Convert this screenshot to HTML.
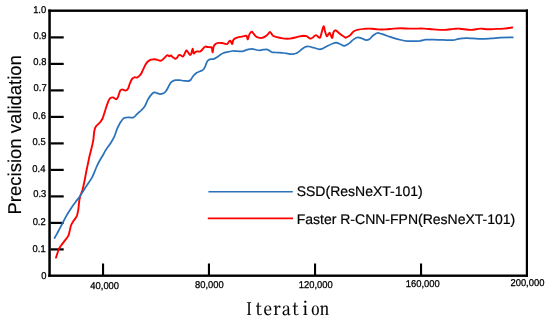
<!DOCTYPE html>
<html><head><meta charset="utf-8"><style>
html,body{margin:0;padding:0;background:#fff;}
body{width:550px;height:322px;overflow:hidden;}
svg{display:block;}
text{text-rendering:geometricPrecision;}
.tk{font-family:"Liberation Sans",Arial,sans-serif;font-size:9.9px;fill:#000;stroke:#000;stroke-width:0.28px;}
</style></head><body>
<svg width="550" height="322" viewBox="0 0 550 322">
<rect width="550" height="322" fill="#fff"/>
<g fill="#000">
<rect x="48.3" y="9.5" width="479.7" height="2.4"/>
<rect x="48.3" y="9.5" width="2.5" height="267.4"/>
<rect x="525.8" y="9.5" width="2.2" height="267.4"/>
<rect x="48.3" y="274.5" width="479.7" height="2.4"/>
<rect x="50.5" y="248.30" width="13.2" height="2.2"/><rect x="50.5" y="221.80" width="13.2" height="2.2"/><rect x="50.5" y="195.30" width="13.2" height="2.2"/><rect x="50.5" y="168.80" width="13.2" height="2.2"/><rect x="50.5" y="142.30" width="13.2" height="2.2"/><rect x="50.5" y="115.80" width="13.2" height="2.2"/><rect x="50.5" y="89.30" width="13.2" height="2.2"/><rect x="50.5" y="62.80" width="13.2" height="2.2"/><rect x="50.5" y="36.30" width="13.2" height="2.2"/>
<rect x="102.0" y="263.5" width="2.1" height="12"/><rect x="207.9" y="263.5" width="2.1" height="12"/><rect x="314.0" y="263.5" width="2.1" height="12"/><rect x="420.0" y="263.5" width="2.1" height="12"/>
</g>
<g class="tk" text-anchor="end"><text transform="translate(46.2,12.5) scale(0.95,1)">1.0</text><text transform="translate(46.5,38.6) scale(0.95,1)">0.9</text><text transform="translate(46.4,64.7) scale(0.95,1)">0.8</text><text transform="translate(46.6,91.4) scale(0.95,1)">0.7</text><text transform="translate(45.9,118.7) scale(0.95,1)">0.6</text><text transform="translate(45.6,144.8) scale(0.95,1)">0.5</text><text transform="translate(45.4,171.6) scale(0.95,1)">0.4</text><text transform="translate(46.3,197.4) scale(0.95,1)">0.3</text><text transform="translate(45.7,224.5) scale(0.95,1)">0.2</text><text transform="translate(45.6,251.8) scale(0.95,1)">0.1</text><text transform="translate(46.5,278.5) scale(0.95,1)">0</text></g>
<g class="tk" text-anchor="middle"><text transform="translate(104.7,288.5) scale(0.95,1)">40,000</text><text transform="translate(209.3,287.5) scale(0.95,1)">80,000</text><text transform="translate(315.7,287.9) scale(0.95,1)">120,000</text><text transform="translate(422.7,287.2) scale(0.95,1)">160,000</text><text transform="translate(527.4,285.5) scale(0.95,1)">200,000</text></g>
<path d="M56.0,257.6 C56.5,256.2 57.9,251.5 58.7,249.5 C59.5,247.5 59.8,247.2 60.9,245.7 C62.0,244.1 63.9,241.9 65.2,240.2 C66.5,238.5 67.7,236.9 68.5,235.3 C69.3,233.7 69.3,232.1 69.8,230.4 C70.2,228.7 70.5,226.7 71.2,225.0 C71.9,223.3 72.9,222.0 73.8,220.5 C74.7,219.0 76.0,217.9 76.8,216.1 C77.5,214.3 77.9,211.8 78.3,209.6 C78.7,207.4 78.7,205.2 79.0,203.0 C79.3,200.8 79.5,198.7 80.1,196.5 C80.7,194.3 81.7,192.8 82.5,190.0 C83.3,187.2 84.0,183.3 84.7,180.0 C85.4,176.7 85.9,173.3 86.6,170.0 C87.3,166.7 88.2,162.5 88.7,160.0 C89.2,157.5 89.3,156.9 89.8,155.0 C90.3,153.1 90.9,150.7 91.5,148.3 C92.1,145.9 92.8,143.1 93.2,140.7 C93.6,138.3 93.7,135.9 93.9,134.1 C94.1,132.3 94.3,131.1 94.6,129.8 C94.9,128.5 95.3,127.4 95.9,126.5 C96.5,125.6 97.3,125.0 98.0,124.3 C98.7,123.5 99.5,123.0 100.3,122.0 C101.1,121.0 101.9,119.9 102.6,118.5 C103.2,117.1 103.7,115.0 104.2,113.5 C104.7,112.0 105.0,111.0 105.4,109.8 C105.8,108.5 106.2,107.2 106.6,106.0 C107.0,104.8 107.5,103.5 107.9,102.4 C108.3,101.3 108.8,100.3 109.2,99.6 C109.6,98.9 109.8,98.4 110.4,98.0 C111.0,97.6 112.0,97.2 112.9,97.4 C113.8,97.6 115.2,99.3 116.0,99.3 C116.8,99.3 117.3,98.3 117.8,97.4 C118.3,96.5 118.6,95.1 119.0,94.0 C119.4,92.9 119.8,91.4 120.3,90.6 C120.8,89.8 121.4,89.4 122.2,89.4 C123.0,89.4 124.3,90.7 125.3,90.6 C126.3,90.5 127.2,89.9 128.0,88.7 C128.8,87.5 129.2,84.9 129.9,83.3 C130.6,81.7 131.4,79.9 132.1,78.9 C132.8,77.9 133.4,77.5 134.2,77.3 C135.0,77.1 136.2,77.8 137.0,77.6 C137.8,77.4 138.4,76.9 139.1,76.2 C139.8,75.5 140.6,74.8 141.3,73.5 C142.0,72.2 142.8,70.2 143.5,68.7 C144.2,67.2 144.9,65.5 145.7,64.2 C146.5,62.9 147.5,61.8 148.4,61.0 C149.3,60.2 150.1,60.0 151.1,59.7 C152.1,59.4 153.2,59.3 154.3,59.3 C155.4,59.3 156.7,59.6 157.6,59.9 C158.5,60.1 159.3,60.7 160.0,60.8 C160.7,60.9 161.1,60.8 161.9,60.3 C162.7,59.8 163.8,58.5 164.7,57.6 C165.6,56.8 166.6,55.4 167.4,55.2 C168.2,55.0 168.7,56.2 169.3,56.2 C169.9,56.2 170.4,55.4 171.0,55.5 C171.6,55.6 171.9,56.6 172.6,57.1 C173.3,57.6 174.6,58.6 175.4,58.7 C176.2,58.8 176.7,58.2 177.2,57.6 C177.7,57.0 178.0,55.6 178.6,55.2 C179.2,54.8 179.8,55.0 180.5,55.2 C181.2,55.4 182.2,56.8 182.8,56.6 C183.5,56.5 183.8,55.3 184.4,54.3 C185.0,53.3 185.7,51.0 186.3,50.6 C186.9,50.2 187.3,51.3 187.9,52.0 C188.5,52.7 189.2,54.5 189.8,54.8 C190.4,55.1 190.7,54.8 191.2,53.8 C191.7,52.8 192.2,48.8 192.6,48.7 C193.0,48.6 193.3,52.8 193.7,53.4 C194.1,54.0 194.5,52.7 195.0,52.4 C195.5,52.1 196.1,51.5 196.9,51.4 C197.7,51.3 198.9,51.8 199.7,51.6 C200.5,51.5 200.9,51.1 201.5,50.5 C202.1,49.9 202.8,48.9 203.4,48.2 C204.0,47.6 204.6,46.8 205.3,46.6 C206.0,46.4 206.8,46.9 207.6,47.0 C208.4,47.1 209.7,47.1 210.4,47.2 C211.1,47.3 211.4,46.8 211.8,47.7 C212.2,48.6 212.4,52.5 212.7,52.4 C213.0,52.2 213.1,48.2 213.6,46.8 C214.1,45.4 214.7,44.6 215.5,44.0 C216.3,43.4 217.2,43.1 218.3,42.9 C219.4,42.7 220.9,42.9 222.0,43.0 C223.1,43.1 223.9,43.6 224.8,43.8 C225.7,44.0 226.5,44.4 227.2,44.0 C227.9,43.6 228.5,42.1 229.0,41.6 C229.5,41.1 229.8,40.5 230.2,40.7 C230.6,40.9 231.0,42.1 231.3,42.6 C231.7,43.1 232.0,44.4 232.3,44.0 C232.6,43.6 232.7,41.2 233.2,40.3 C233.7,39.4 234.3,38.9 235.1,38.4 C235.9,37.9 236.8,37.6 237.9,37.3 C239.0,37.0 240.4,36.9 241.7,36.6 C243.0,36.3 245.0,35.7 245.9,35.7 C246.8,35.7 246.6,36.0 246.9,36.6 C247.2,37.2 247.5,39.6 247.8,39.4 C248.2,39.2 248.5,36.4 249.0,35.3 C249.5,34.1 250.1,33.1 250.6,32.5 C251.1,31.9 251.5,31.6 252.0,31.7 C252.5,31.8 252.8,32.6 253.4,33.4 C254.0,34.1 254.8,35.5 255.7,36.2 C256.6,36.9 257.5,37.3 258.5,37.6 C259.5,37.9 260.7,38.1 261.8,37.9 C262.9,37.7 264.0,37.2 265.0,36.6 C266.0,36.0 267.0,35.1 267.8,34.3 C268.6,33.5 269.3,32.1 269.9,32.0 C270.5,31.9 271.0,33.2 271.6,33.9 C272.2,34.6 272.5,35.5 273.4,36.0 C274.3,36.5 276.0,36.8 277.1,37.1 C278.2,37.4 278.8,37.5 280.0,37.8 C281.2,38.0 282.7,38.5 284.3,38.6 C285.9,38.7 288.0,38.8 289.8,38.6 C291.6,38.4 293.6,37.9 295.2,37.5 C296.8,37.1 298.2,36.7 299.6,36.4 C301.1,36.1 302.7,35.8 303.9,35.7 C305.1,35.7 305.8,35.8 306.6,36.1 C307.4,36.5 308.1,37.4 308.8,37.8 C309.5,38.2 310.3,38.7 311.0,38.6 C311.7,38.5 312.4,37.8 313.2,37.2 C314.0,36.6 314.9,35.0 316.0,35.1 C317.1,35.2 318.9,38.1 319.8,37.8 C320.7,37.5 320.8,35.4 321.4,33.5 C322.0,31.6 323.0,26.8 323.6,26.4 C324.2,26.0 324.5,29.7 325.0,31.3 C325.5,32.9 326.2,35.8 326.8,36.2 C327.4,36.7 328.0,34.5 328.5,34.0 C329.0,33.5 329.4,32.5 329.8,32.9 C330.2,33.3 330.8,35.4 331.2,36.2 C331.6,37.0 331.9,38.4 332.3,37.8 C332.7,37.2 332.9,33.7 333.4,32.4 C333.9,31.1 334.7,30.2 335.5,30.2 C336.3,30.2 337.3,31.6 338.3,32.4 C339.3,33.2 340.4,34.3 341.5,35.1 C342.6,35.9 344.2,36.9 345.0,37.3 C345.8,37.7 345.2,37.9 346.0,37.6 C346.8,37.3 348.6,36.6 349.8,35.6 C351.1,34.6 352.1,32.5 353.5,31.5 C354.9,30.5 356.5,30.1 358.4,29.6 C360.3,29.2 362.8,29.0 365.0,28.8 C367.2,28.6 369.6,28.6 371.7,28.7 C373.8,28.8 375.5,29.3 377.8,29.4 C380.1,29.5 382.9,29.5 385.5,29.4 C388.1,29.3 390.7,28.8 393.3,28.6 C395.9,28.4 398.5,28.3 401.1,28.3 C403.7,28.3 406.5,28.6 408.8,28.6 C411.1,28.7 412.4,28.6 415.0,28.6 C417.6,28.6 421.2,28.5 424.3,28.6 C427.4,28.7 430.2,29.2 433.6,29.4 C437.0,29.6 441.1,30.0 444.5,29.9 C447.9,29.8 451.2,29.1 453.8,28.9 C456.4,28.7 457.1,28.5 460.0,28.7 C462.9,28.9 467.5,29.9 470.9,29.9 C474.3,29.9 477.3,28.7 480.2,28.6 C483.1,28.5 485.3,29.2 488.0,29.3 C490.7,29.4 493.8,29.0 496.5,28.9 C499.2,28.8 502.1,28.8 504.1,28.6 C506.1,28.5 507.1,28.2 508.5,28.0 C509.9,27.8 511.7,27.6 512.3,27.5" fill="none" stroke="#ff0000" stroke-width="1.9" stroke-linejoin="round" stroke-linecap="round"/>
<path d="M54.6,238.0 C55.2,236.9 57.0,233.7 58.2,231.5 C59.4,229.3 60.6,226.9 61.6,225.0 C62.6,223.1 63.3,221.7 64.2,220.0 C65.1,218.3 65.7,217.0 66.9,215.0 C68.1,213.0 69.8,210.1 71.3,207.9 C72.8,205.7 74.2,203.9 75.6,202.0 C77.0,200.1 78.4,198.5 79.8,196.5 C81.2,194.5 82.5,192.2 83.9,190.0 C85.3,187.8 86.9,185.4 88.3,183.3 C89.7,181.2 91.1,179.1 92.1,177.3 C93.1,175.5 93.6,174.1 94.3,172.4 C95.0,170.7 95.7,168.8 96.5,167.0 C97.3,165.2 98.1,163.5 99.2,161.5 C100.3,159.5 101.9,156.9 103.0,155.0 C104.1,153.1 104.5,151.9 105.8,150.0 C107.0,148.1 109.1,145.5 110.5,143.3 C111.9,141.1 113.2,139.1 114.3,136.7 C115.4,134.3 116.1,131.3 117.0,129.1 C117.9,126.9 118.6,125.5 119.7,123.7 C120.8,121.9 122.3,119.3 123.5,118.3 C124.7,117.3 125.6,117.6 126.8,117.5 C128.0,117.4 129.5,117.5 130.6,117.5 C131.7,117.5 132.7,117.6 133.6,117.3 C134.5,117.0 135.0,116.2 135.8,115.4 C136.6,114.7 137.4,113.6 138.3,112.8 C139.2,112.0 139.9,111.6 141.0,110.5 C142.1,109.4 143.7,107.9 144.8,106.2 C145.9,104.5 146.7,101.9 147.6,100.2 C148.5,98.5 149.3,97.2 150.3,95.9 C151.3,94.6 152.5,93.1 153.5,92.6 C154.5,92.1 155.2,92.5 156.3,92.8 C157.4,93.0 158.8,94.1 160.1,94.1 C161.4,94.1 163.0,93.5 164.0,93.0 C165.0,92.5 165.5,91.8 166.2,90.8 C166.9,89.8 167.7,88.2 168.3,87.0 C168.9,85.8 169.4,84.7 170.0,83.8 C170.6,82.9 171.2,82.2 172.1,81.6 C173.0,81.0 174.1,80.4 175.4,80.2 C176.7,80.0 178.2,80.1 179.7,80.2 C181.1,80.3 182.7,80.7 184.1,80.8 C185.5,80.9 186.8,81.2 187.9,81.1 C189.0,81.0 189.9,80.6 190.6,80.0 C191.3,79.4 191.6,78.4 192.2,77.6 C192.8,76.8 193.2,76.0 194.0,75.2 C194.8,74.4 195.7,73.5 196.7,72.8 C197.7,72.1 199.0,71.7 200.0,71.2 C201.0,70.8 201.9,70.7 202.7,70.1 C203.5,69.5 204.2,68.6 204.8,67.4 C205.4,66.2 205.9,64.2 206.5,63.0 C207.1,61.8 207.4,60.9 208.1,60.3 C208.8,59.7 209.8,59.4 210.8,59.2 C211.8,59.0 213.0,59.3 214.1,58.9 C215.2,58.5 216.2,57.7 217.3,57.0 C218.4,56.3 219.7,55.1 220.6,54.5 C221.5,53.9 222.0,53.7 223.0,53.3 C224.0,52.9 225.1,52.6 226.7,52.2 C228.2,51.8 230.6,51.2 232.3,51.0 C234.0,50.8 235.2,51.2 236.9,51.2 C238.6,51.2 241.0,51.5 242.7,51.3 C244.4,51.0 245.8,50.1 247.3,49.7 C248.9,49.3 250.4,48.8 252.0,48.8 C253.6,48.8 255.3,49.8 256.6,50.0 C257.9,50.2 258.8,50.3 259.9,50.3 C261.0,50.2 262.1,49.9 263.2,49.7 C264.3,49.6 265.5,49.3 266.4,49.4 C267.3,49.5 267.9,49.8 268.8,50.3 C269.7,50.8 270.9,51.8 272.0,52.2 C273.1,52.6 274.0,52.4 275.3,52.5 C276.6,52.6 278.5,52.6 280.0,52.7 C281.5,52.8 282.9,52.8 284.3,53.0 C285.8,53.2 287.2,53.6 288.7,53.8 C290.1,54.0 291.7,54.2 293.0,54.1 C294.3,54.0 295.2,53.8 296.3,53.3 C297.4,52.8 298.5,51.9 299.6,51.1 C300.7,50.3 301.7,49.1 302.8,48.4 C303.9,47.7 305.1,47.0 306.1,46.7 C307.1,46.4 307.8,46.4 308.8,46.5 C309.8,46.6 311.1,47.0 312.1,47.3 C313.1,47.5 313.9,47.7 315.0,48.0 C316.1,48.3 317.6,49.1 318.8,49.2 C320.0,49.4 320.6,49.4 322.0,48.9 C323.4,48.4 325.6,46.9 327.4,46.0 C329.2,45.1 331.4,44.0 332.8,43.5 C334.2,43.0 335.0,42.7 336.1,42.7 C337.2,42.8 338.2,43.3 339.3,43.8 C340.4,44.2 341.6,45.1 342.6,45.4 C343.6,45.7 344.0,46.1 345.2,45.7 C346.4,45.3 348.4,43.9 349.8,42.9 C351.2,41.9 352.0,40.5 353.3,39.6 C354.6,38.7 356.2,37.6 357.6,37.4 C359.1,37.2 360.6,38.0 362.0,38.5 C363.4,39.0 365.0,40.0 366.3,40.1 C367.6,40.2 368.5,39.7 369.6,39.0 C370.7,38.3 371.5,36.8 372.8,35.8 C374.1,34.8 375.8,33.3 377.2,33.0 C378.6,32.7 379.6,33.3 381.5,33.9 C383.4,34.5 386.4,35.6 388.6,36.4 C390.8,37.1 392.7,37.8 394.8,38.4 C396.9,39.0 399.0,39.5 401.1,40.0 C403.2,40.5 405.2,40.9 407.3,41.1 C409.4,41.3 411.4,41.1 413.5,41.1 C415.6,41.1 417.6,41.1 419.7,40.9 C421.8,40.6 423.6,39.8 425.9,39.6 C428.2,39.4 430.8,39.7 433.6,39.7 C436.5,39.8 439.8,39.8 443.0,39.9 C446.2,40.0 450.4,40.4 453.0,40.2 C455.6,40.0 456.3,39.2 458.5,38.9 C460.7,38.6 463.9,38.3 466.2,38.2 C468.5,38.1 469.8,38.3 472.4,38.4 C475.0,38.5 478.6,38.9 481.7,38.9 C484.8,38.9 488.0,38.6 491.1,38.4 C494.2,38.2 496.8,37.8 500.4,37.6 C504.0,37.4 510.7,37.4 512.8,37.4" fill="none" stroke="#2a73bb" stroke-width="1.75" stroke-linejoin="round" stroke-linecap="round"/>
<line x1="208.4" y1="191.8" x2="292.8" y2="191.8" stroke="#2a73bb" stroke-width="1.5"/>
<line x1="207.8" y1="218.3" x2="293" y2="218.3" stroke="#ff0000" stroke-width="1.7"/>
<g font-family="Liberation Sans, Arial, sans-serif" font-size="14" fill="#000" stroke="#000" stroke-width="0.2">
<text x="296.7" y="195.7">SSD(ResNeXT-101)</text>
<text x="296.7" y="223.7">Faster R-CNN-FPN(ResNeXT-101)</text>
</g>
<text transform="translate(21,214.5) rotate(-90)" font-family="Liberation Sans, Arial, sans-serif" font-size="18.5" fill="#000" stroke="#000" stroke-width="0.15">Precision validation</text>
<text y="314.5" text-anchor="middle" font-family="'Noto Serif CJK SC',serif" style="font-feature-settings:'hwid'" fill="#000" stroke="#000" stroke-width="0.15"><tspan x="249" font-size="17.2">I</tspan><tspan x="258.7 267.7 276.6 286.2 295.3 305.1 315.4 324.3" font-size="17.5">teration</tspan></text>
</svg>
</body></html>
